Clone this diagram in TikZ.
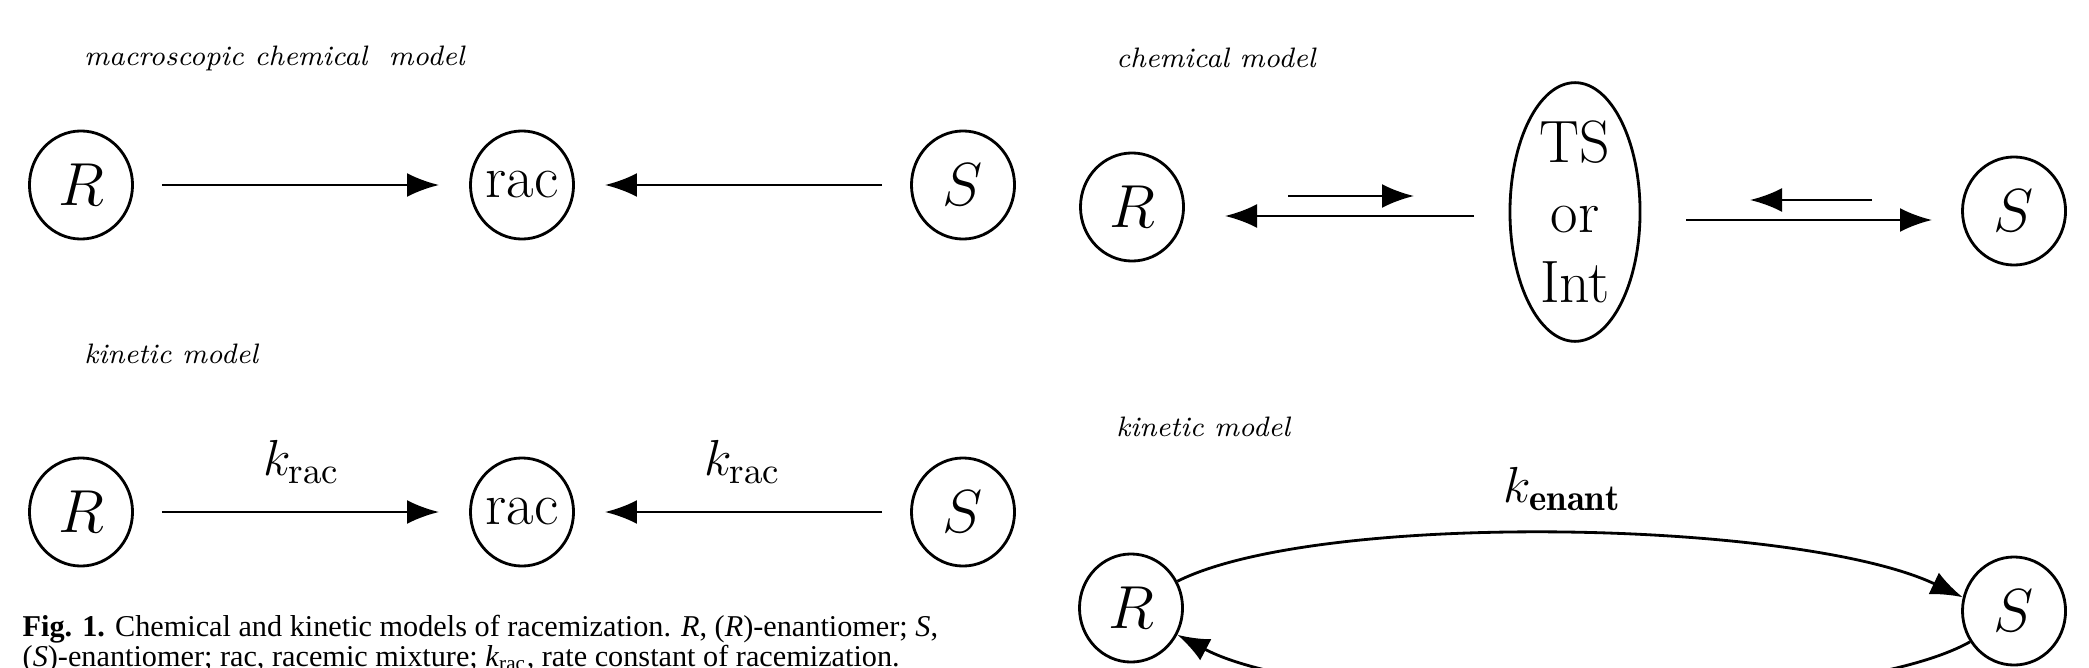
\documentclass[tikz,border=0pt]{standalone}
\usepackage{fontspec}
\usetikzlibrary{positioning, shapes.geometric, arrows.meta}
\newfontfamily\capfont{Liberation Serif}
\tikzstyle{species}=[ellipse, draw=black, thick, minimum width=10.3mm, minimum height=10.8mm, inner sep=0pt, font=\fontsize{17}{19}\selectfont]
\tikzstyle{title}=[anchor=west, font=\fontsize{8}{9}\selectfont\itshape]
\tikzstyle{rxn}=[thick, -{Latex[length=3.2mm,width=2.4mm]}]
\tikzstyle{rate}=[font=\fontsize{15}{17}\selectfont]

\begin{document}
\begin{tikzpicture}[x=0.01cm, y=-0.01cm]
            \useasboundingbox (0,0) rectangle (2089,667);
            %macroscopic chemical model
            \node[title] (t0) at (72,58) {macroscopic chemical\ \ model};
            \node[species] (r0) at (81,185) {$R$};
            \node[species] (rac0) at (522,185) {rac};
            \node[species] (s0) at (963,185) {$S$};
            \draw[rxn, shorten <=2.8mm, shorten >=3mm] (r0) to (rac0);
            \draw[rxn, shorten <=2.8mm, shorten >=3mm] (s0) to (rac0);
            %kinetic model, left
            \node[title] (t1) at (72,354) {kinetic model};
            \node[species] (r1) at (81,512) {$R$};
            \node[species] (rac1) at (522,512) {rac};
            \node[species] (s1) at (963,512) {$S$};
            \draw[rxn, shorten <=2.8mm, shorten >=3mm] (r1) to node[rate, above=1.5mm] {$k_{\mathrm{rac}}$} (rac1);
            \draw[rxn, shorten <=2.8mm, shorten >=3mm] (s1) to node[rate, above=1.5mm] {$k_{\mathrm{rac}}$} (rac1);
            %caption
            \node[anchor=north west, align=left, inner sep=0pt, font=\capfont\fontsize{8.6}{8.8}\selectfont] (cap) at (22,614)
                {\textbf{Fig. 1.} Chemical and kinetic models of racemization. \textit{R}, (\textit{R})-enantiomer; \textit{S},\\
                 (\textit{S})-enantiomer; rac, racemic mixture; \textit{k}\textsubscript{rac}, rate constant of racemization.};
            %chemical model
            \node[title] (t2) at (1104,58) {chemical model};
            \node[species] (r2) at (1132,207) {$R$};
            \node[species, minimum width=13mm, minimum height=24.3mm, align=center, font=\fontsize{17}{20}\selectfont] (ts) at (1575,212) {TS\\or\\Int};
            \node[species] (s2) at (2014,211) {$S$};
            \coordinate (a1) at (1288,196);
            \coordinate (a2) at (1414,196);
            \coordinate (b1) at (1474,216);
            \coordinate (b2) at (1225,216);
            \coordinate (c1) at (1872,200);
            \coordinate (c2) at (1750,200);
            \coordinate (d1) at (1686,220);
            \coordinate (d2) at (1932,220);
            \draw[rxn] (a1) to (a2);
            \draw[rxn] (b1) to (b2);
            \draw[rxn] (c1) to (c2);
            \draw[rxn] (d1) to (d2);
            %kinetic model, right
            \node[title] (t3) at (1104,427) {kinetic model};
            \node[species] (r3) at (1131,608) {$R$};
            \node[species] (s3) at (2014,611) {$S$};
            \draw[rxn] (r3.30) .. controls (1320,510) and (1800,520) .. node[rate, above=1mm] {$k_{\mathbf{enant}}$} (s3.165);
            \draw[rxn] (s3.215) .. controls (1840,715) and (1330,715) .. (r3.-30);
\end{tikzpicture}
\end{document}
